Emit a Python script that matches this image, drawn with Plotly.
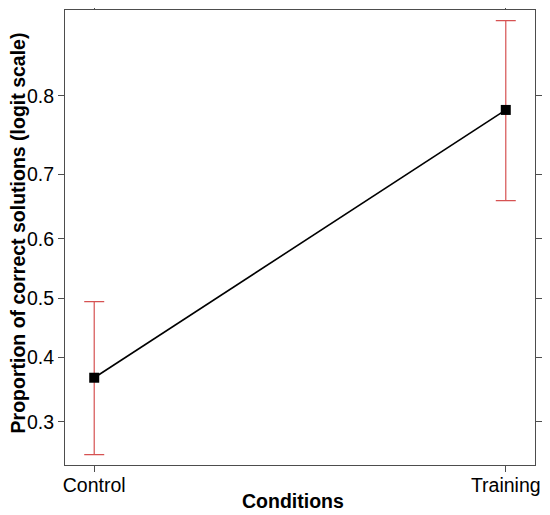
import numpy as np
import plotly.graph_objects as go

conditions = ["Control", "Training"]
proportion = [0.367, 0.784]
lower = [0.255, 0.661]
upper = [0.494, 0.870]
tick_props = [0.3, 0.4, 0.5, 0.6, 0.7, 0.8]
tick_labels = ["0.3", "0.4", "0.5", "0.6", "0.7", "0.8"]
x_title = "Conditions"
y_title = "Proportion of correct solutions (logit scale)"


def logit(p):
    p = np.asarray(p, dtype=float)
    return np.log(p / (1 - p))


y = logit(proportion)
err_plus = logit(upper) - y
err_minus = y - logit(lower)

fig = go.Figure()
fig.add_trace(go.Scatter(
    x=conditions, y=y,
    mode="lines+markers",
    line=dict(color="black", width=1.6),
    marker=dict(symbol="square", size=10, color="black"),
    error_y=dict(type="data", symmetric=False, array=err_plus, arrayminus=err_minus,
                 color="#d65252", thickness=1.2, width=10),
    showlegend=False,
))

font_family = "Liberation Sans, Arial, Helvetica, sans-serif"
axis_col = "#4d4d4d"

# page has an 8px body margin; figure is offset accordingly
fig.update_layout(
    width=542, height=507,
    margin=dict(l=57, r=15, t=2, b=50),
    paper_bgcolor="white", plot_bgcolor="white",
    font=dict(family=font_family, size=19.5, color="black"),
    xaxis=dict(
        type="category", range=[-0.071, 1.071], automargin=False,
        showline=True, linecolor=axis_col, linewidth=1.2, mirror="ticks",
        ticks="outside", ticklen=6, tickcolor=axis_col, tickwidth=1,
        showgrid=False, zeroline=False, ticklabelstandoff=-4,
        tickfont=dict(size=19.5),
    ),
    yaxis=dict(
        range=[float(logit(0.2418)), float(logit(0.878))], automargin=False,
        tickvals=list(logit(tick_props)), ticktext=tick_labels,
        showline=True, linecolor=axis_col, linewidth=1.2, mirror="ticks",
        ticks="outside", ticklen=6, tickcolor=axis_col, tickwidth=1,
        showgrid=False, zeroline=False,
        tickfont=dict(size=19.5),
    ),
    annotations=[
        dict(text="<b>" + x_title + "</b>", xref="paper", yref="paper", x=0.486, y=0,
             xanchor="center", yanchor="middle", yshift=-36, showarrow=False,
             font=dict(size=19.5)),
        dict(text="<b>" + y_title + "</b>", xref="paper", yref="paper", x=0, y=0.509,
             xanchor="center", yanchor="middle", xshift=-47, textangle=-90, showarrow=False,
             font=dict(size=19.5)),
    ],
)

fig.write_html("out.html")
